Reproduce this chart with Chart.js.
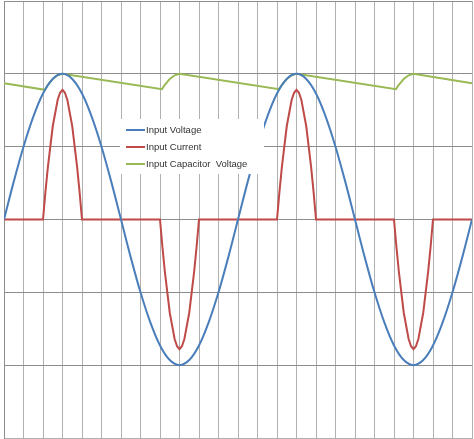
<!DOCTYPE html>
<html>
<head>
<meta charset="utf-8">
<script src="https://cdn.jsdelivr.net/npm/chart.js@4"></script>
<style>
html,body{margin:0;padding:0;background:#fff;}
#wrap{width:474px;height:439px;}
</style>
</head>
<body>
<div id="wrap"><canvas id="graphique"></canvas></div>
<script>
// input voltage, sampled every half division
var vX=[0,0.5,1,1.5,2,2.5,3,3.5,4,4.5,5,5.5,6,6.5,7,7.5,8,8.5,9,9.5,10,10.5,11,11.5,12,
        12.5,13,13.5,14,14.5,15,15.5,16,16.5,17,17.5,18,18.5,19,19.5,20,20.5,21,21.5,22,22.5,23,23.5,24];
var vY=[0,0.52,1,1.41,1.73,1.93,2,1.93,1.73,1.41,1,0.52,0,-0.52,-1,-1.41,-1.73,-1.93,-2,-1.93,-1.73,-1.41,-1,-0.52,0,
        0.52,1,1.41,1.73,1.93,2,1.93,1.73,1.41,1,0.52,0,-0.52,-1,-1.41,-1.73,-1.93,-2,-1.93,-1.73,-1.41,-1,-0.52,0];

// input current pulses
var iX=[0,2,2.125,2.25,2.5,2.75,2.875,3,3.125,3.25,3.5,3.75,3.875,4,
        8,8.125,8.25,8.5,8.75,8.875,9,9.125,9.25,9.5,9.75,9.875,10,
        14,14.125,14.25,14.5,14.75,14.875,15,15.125,15.25,15.5,15.75,15.875,16,
        20,20.125,20.25,20.5,20.75,20.875,21,21.125,21.25,21.5,21.75,21.875,22,24];
var iY=[0,0,0.38,0.72,1.28,1.64,1.74,1.78,1.74,1.64,1.28,0.72,0.38,0,
        0,-0.38,-0.72,-1.28,-1.64,-1.74,-1.78,-1.74,-1.64,-1.28,-0.72,-0.38,0,
        0,0.38,0.72,1.28,1.64,1.74,1.78,1.74,1.64,1.28,0.72,0.38,0,
        0,-0.38,-0.72,-1.28,-1.64,-1.74,-1.78,-1.74,-1.64,-1.28,-0.72,-0.38,0,0];

// input capacitor voltage
var cX=[0,2.1,2.25,2.5,2.75,3,8.1,8.25,8.5,8.75,9,14.1,14.25,14.5,14.75,15,20.1,20.25,20.5,20.75,21,24];
var cY=[1.87,1.78,1.85,1.93,1.98,2,1.79,1.85,1.93,1.98,2,1.79,1.85,1.93,1.98,2,1.79,1.85,1.93,1.98,2,1.87];

var noms=['Input Voltage','Input Current','Input Capacitor  Voltage'];
var couleurs=['#4a7ebb','#be4b48','#98b954'];

function pts(xs,ys){
    return xs.map((v,i)=>({x:v,y:ys[i]}));
}

// legend drawn inside the plot, like the spreadsheet one
const legendeInterne={
    id:'legendeInterne',
    afterDraw(chart){
        const ctx=chart.ctx;
        const x0=120, y0=119, w=144, h=55;
        ctx.save();
        ctx.fillStyle='#fff';
        ctx.fillRect(x0,y0,w,h);
        ctx.font='9.5px "Liberation Sans", Arial, sans-serif';
        ctx.textBaseline='middle';
        noms.forEach((n,i)=>{
            const y=y0+11+i*17;
            ctx.strokeStyle=couleurs[i];
            ctx.lineWidth=2;
            ctx.beginPath();
            ctx.moveTo(x0+6,y);
            ctx.lineTo(x0+25,y);
            ctx.stroke();
            ctx.fillStyle='#333';
            ctx.fillText(n,x0+26,y);
        });
        ctx.restore();
    }
};

var ctx=document.getElementById('graphique').getContext('2d');
var graphique=new Chart(ctx,{
    type:'scatter',
    data:{
        datasets:[
            {label:noms[0],data:pts(vX,vY),showLine:true,borderColor:couleurs[0],borderWidth:2,pointRadius:0,cubicInterpolationMode:'monotone'},
            {label:noms[1],data:pts(iX,iY),showLine:true,borderColor:couleurs[1],borderWidth:2,pointRadius:0,tension:0},
            {label:noms[2],data:pts(cX,cY),showLine:true,borderColor:couleurs[2],borderWidth:2,pointRadius:0,tension:0}
        ]
    },
    options:{
        responsive:true,
        maintainAspectRatio:false,
        animation:false,
        layout:{padding:{left:4,right:2,top:1,bottom:1}},
        plugins:{legend:{display:false},tooltip:{enabled:false}},
        scales:{
            x:{type:'linear',min:0,max:24,
               ticks:{display:false,stepSize:1},
               grid:{color:'#b0b0b0',drawTicks:false},
               border:{color:'#b0b0b0'}},
            y:{min:-3,max:3,
               ticks:{display:false,stepSize:1},
               grid:{color:'#8c8c8c',drawTicks:false},
               border:{color:'#8c8c8c'}}
        }
    },
    plugins:[legendeInterne]
});
</script>
</body>
</html>
